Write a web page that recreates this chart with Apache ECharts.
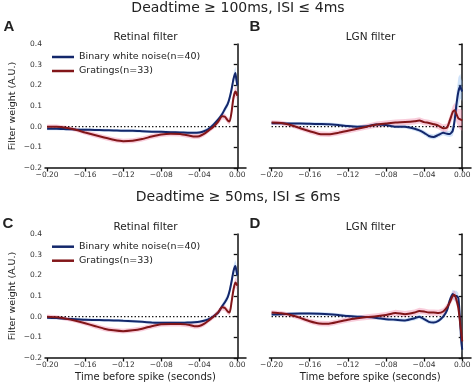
<!DOCTYPE html>
<html><head><meta charset="utf-8">
<script src="https://cdn.jsdelivr.net/npm/echarts@6/dist/echarts.min.js"></script>
<style>html,body{margin:0;padding:0;background:#fff}#c{width:474px;height:384px}</style>
</head><body><div id="c"></div>
<script>
const timeGrid = [-0.2,-0.19,-0.18,-0.17,-0.16,-0.15,-0.14,-0.13,-0.12,-0.11,-0.1,-0.09,-0.08,-0.07,-0.06,-0.05,-0.045,-0.04,-0.035,-0.03,-0.025,-0.02,-0.016,-0.013,-0.01,-0.008,-0.006,-0.004,-0.002,-0.001,0];
const xTicks = [-0.2,-0.16,-0.12,-0.08,-0.04,0];
const seriesNames = ['Binary white noise(n=40)','Gratings(n=33)'];
const rowTitles = ['Deadtime \u2265 100ms, ISI \u2264 4ms','Deadtime \u2265 50ms, ISI \u2264 6ms'];
const panelTitles = ['Retinal filter','LGN filter','Retinal filter','LGN filter'];
const panelLetters = ['A','B','C','D'];
const xLabel = 'Time before spike (seconds)';
const yLabel = 'Filter weight (A.U.)';

const blueA = [-0.01,-0.01,-0.012,-0.014,-0.015,-0.016,-0.017,-0.018,-0.02,-0.02,-0.022,-0.024,-0.025,-0.027,-0.028,-0.03,-0.03,-0.028,-0.022,-0.01,0.01,0.035,0.06,0.085,0.11,0.14,0.18,0.23,0.26,0.23,0.2];
const redA = [0.0,0.0,-0.005,-0.015,-0.028,-0.04,-0.052,-0.063,-0.07,-0.068,-0.06,-0.048,-0.038,-0.034,-0.036,-0.044,-0.048,-0.046,-0.035,-0.018,0.0,0.025,0.05,0.048,0.03,0.025,0.07,0.14,0.17,0.165,0.15];
const blueB = [0.016,0.016,0.015,0.015,0.014,0.013,0.012,0.008,0.003,0.0,0.002,0.01,0.008,0.0,0.0,-0.01,-0.018,-0.03,-0.045,-0.05,-0.04,-0.03,-0.034,-0.035,-0.02,0.03,0.11,0.17,0.195,0.18,0.17];
const redB = [0.02,0.018,0.008,-0.008,-0.022,-0.035,-0.037,-0.03,-0.02,-0.01,0.0,0.01,0.015,0.02,0.022,0.026,0.03,0.022,0.018,0.012,0.005,-0.008,-0.005,0.03,0.07,0.08,0.06,0.04,0.035,0.033,0.03];
const blueC = [-0.005,-0.007,-0.01,-0.012,-0.015,-0.016,-0.017,-0.018,-0.02,-0.022,-0.025,-0.028,-0.03,-0.03,-0.03,-0.028,-0.027,-0.025,-0.02,-0.012,0.002,0.02,0.05,0.07,0.095,0.125,0.17,0.22,0.245,0.225,0.2];
const redC = [0.0,-0.003,-0.01,-0.02,-0.032,-0.045,-0.058,-0.066,-0.07,-0.066,-0.058,-0.046,-0.037,-0.035,-0.036,-0.04,-0.046,-0.045,-0.035,-0.018,0.0,0.022,0.045,0.042,0.025,0.02,0.07,0.13,0.165,0.16,0.15];
const blueD = [0.01,0.012,0.014,0.015,0.015,0.014,0.012,0.008,0.003,0.0,-0.002,-0.006,-0.012,-0.015,-0.018,-0.008,0.0,-0.012,-0.025,-0.028,-0.02,0.0,0.03,0.08,0.11,0.1,0.1,0.09,-0.04,-0.12,-0.16];
const redD = [0.02,0.016,0.008,-0.006,-0.022,-0.033,-0.034,-0.025,-0.015,-0.008,-0.002,0.002,0.008,0.018,0.012,0.02,0.028,0.025,0.02,0.02,0.018,0.025,0.045,0.07,0.1,0.105,0.08,0.04,-0.04,-0.08,-0.12];

const errBlueA = [0.007,0.007,0.007,0.007,0.007,0.007,0.007,0.007,0.007,0.007,0.007,0.007,0.007,0.007,0.007,0.007,0.007,0.007,0.008,0.009,0.01,0.011,0.013,0.015,0.017,0.019,0.022,0.026,0.03,0.03,0.03];
const errRedA = [0.01,0.01,0.01,0.01,0.011,0.012,0.012,0.012,0.012,0.012,0.012,0.012,0.012,0.012,0.012,0.012,0.012,0.012,0.012,0.012,0.012,0.014,0.015,0.015,0.015,0.016,0.019,0.022,0.025,0.025,0.025];
const errBlueB = [0.008,0.008,0.008,0.008,0.008,0.008,0.008,0.008,0.008,0.008,0.008,0.008,0.008,0.008,0.009,0.01,0.01,0.011,0.012,0.012,0.012,0.012,0.013,0.015,0.025,0.04,0.055,0.07,0.06,0.05,0.05];
const errRedB = [0.011,0.011,0.011,0.011,0.012,0.013,0.013,0.013,0.013,0.013,0.014,0.015,0.015,0.015,0.015,0.015,0.015,0.015,0.015,0.016,0.017,0.018,0.02,0.025,0.03,0.035,0.04,0.045,0.05,0.05,0.05];
const errBlueC = [0.007,0.007,0.007,0.007,0.007,0.007,0.007,0.007,0.007,0.007,0.007,0.007,0.007,0.007,0.007,0.007,0.007,0.007,0.008,0.009,0.01,0.011,0.013,0.015,0.017,0.019,0.022,0.026,0.03,0.03,0.03];
const errRedC = [0.01,0.01,0.01,0.01,0.011,0.012,0.012,0.012,0.012,0.012,0.012,0.012,0.012,0.012,0.012,0.012,0.012,0.012,0.012,0.012,0.012,0.014,0.015,0.015,0.015,0.016,0.019,0.022,0.025,0.025,0.025];
const errBlueD = [0.008,0.008,0.008,0.008,0.008,0.008,0.008,0.008,0.008,0.008,0.008,0.008,0.008,0.008,0.009,0.01,0.01,0.01,0.01,0.01,0.01,0.012,0.014,0.016,0.02,0.025,0.025,0.025,0.03,0.03,0.03];
const errRedD = [0.011,0.011,0.011,0.011,0.012,0.013,0.013,0.013,0.013,0.013,0.014,0.015,0.015,0.015,0.015,0.015,0.015,0.015,0.015,0.015,0.015,0.016,0.017,0.018,0.02,0.022,0.025,0.025,0.03,0.03,0.03];

const panels = [
  {blue: blueA, red: redA, eb: errBlueA, er: errRedA},
  {blue: blueB, red: redB, eb: errBlueB, er: errRedB},
  {blue: blueC, red: redC, eb: errBlueC, er: errRedC},
  {blue: blueD, red: redD, eb: errBlueD, er: errRedD}
];

const BLUE = '#13276b', RED = '#821619';
const BAND_BLUE = 'rgba(140,185,240,0.42)', BAND_RED = 'rgba(240,130,165,0.4)';
const FONT = 'DejaVu Sans';
const fmt = (v, d) => (v < -1e-9 ? '\u2212' : '') + Math.abs(v).toFixed(d);

const gridPos = [
  {left: 45, top: 44, width: 201, height: 124},
  {left: 269.5, top: 44, width: 201.5, height: 124},
  {left: 45, top: 234, width: 201, height: 124},
  {left: 269.5, top: 234, width: 201.5, height: 124}
];

const axisLineStyle = {color: '#111', width: 1.5};
const xAxes = [], yAxes = [], series = [];
gridPos.forEach((g, i) => {
  const bottomRow = i >= 2, leftCol = i % 2 === 0;
  xAxes.push({
    gridIndex: i, type: 'value', min: -0.2022, max: 0.0092,
    axisLine: {onZero: false, lineStyle: axisLineStyle},
    axisTick: {customValues: xTicks, length: 3.5, lineStyle: {color: '#111', width: 1.3}},
    axisLabel: {customValues: xTicks, formatter: v => fmt(v, 2), fontSize: 7.5, color: '#333', margin: 3, fontFamily: FONT},
    splitLine: {show: false},
    name: bottomRow ? xLabel : '', nameLocation: 'middle', nameGap: 14,
    nameTextStyle: {fontSize: 10, color: '#222', fontFamily: FONT}
  });
  yAxes.push({
    gridIndex: i, type: 'value', min: -0.2, max: 0.4, interval: 0.1,
    axisLine: {show: true, lineStyle: axisLineStyle},
    axisTick: {show: true, length: 3.5, lineStyle: {color: '#111', width: 1.3}},
    axisLabel: {show: leftCol, formatter: v => fmt(v, 1), fontSize: 7.5, color: '#333', margin: 3, fontFamily: FONT},
    splitLine: {show: false},
    name: leftCol ? yLabel : '', nameLocation: 'middle', nameGap: 27,
    nameTextStyle: {fontSize: 9.5, color: '#222', fontFamily: FONT}
  });
  const p = panels[i];
  const band = (vals, err, color) => {
    const rows = timeGrid.map((x, k) => [x, vals[k] - err[k], vals[k] + err[k]]);
    series.push({
      type: 'custom', xAxisIndex: i, yAxisIndex: i, silent: true, z: 1, clip: true,
      encode: {x: 0, y: [1, 2]},
      data: rows,
      renderItem: (params, api) => {
        if (params.dataIndex !== 0) return null;
        const upper = rows.map(r => api.coord([r[0], r[2]]));
        const lower = rows.map(r => api.coord([r[0], r[1]])).reverse();
        return {type: 'polygon', shape: {points: upper.concat(lower)}, style: {fill: color}};
      }
    });
  };
  band(p.blue, p.eb, BAND_BLUE);
  band(p.red, p.er, BAND_RED);
  series.push({
    type: 'line', xAxisIndex: i, yAxisIndex: i, silent: true, symbol: 'none', z: 3,
    lineStyle: {color: '#000', width: 1.3, type: [1.3, 2.2]},
    data: [[-0.2, 0], [0, 0]]
  });
  series.push({
    name: seriesNames[0], type: 'line', xAxisIndex: i, yAxisIndex: i, symbol: 'none', smooth: 0.2, z: 4,
    color: BLUE, lineStyle: {color: BLUE, width: 2},
    data: timeGrid.map((x, k) => [x, p.blue[k]])
  });
  series.push({
    name: seriesNames[1], type: 'line', xAxisIndex: i, yAxisIndex: i, symbol: 'none', smooth: 0.2, z: 5,
    color: RED, lineStyle: {color: RED, width: 2},
    data: timeGrid.map((x, k) => [x, p.red[k]])
  });
});

const legendBase = {
  data: seriesNames, orient: 'vertical', left: 52, icon: 'rect', itemWidth: 22, itemHeight: 2.5, itemGap: 0, padding: 0,
  textStyle: {fontSize: 9.5, lineHeight: 14, color: '#222', fontFamily: FONT}, selectedMode: false
};

const txt = (text, x, y, font) => ({
  type: 'text', x: x, y: y, silent: true,
  style: {text: text, font: font, fill: '#222', align: 'center', verticalAlign: 'middle'}
});

const graphics = [
  txt(rowTitles[0], 238, 8, '14px "DejaVu Sans"'),
  txt(rowTitles[1], 238, 197.5, '14px "DejaVu Sans"'),
  txt(panelLetters[0], 9, 27, 'bold 15px "Liberation Sans"'),
  txt(panelLetters[1], 255, 27, 'bold 15px "Liberation Sans"'),
  txt(panelLetters[2], 8, 224, 'bold 15px "Liberation Sans"'),
  txt(panelLetters[3], 255, 224, 'bold 15px "Liberation Sans"'),
  txt(panelTitles[0], 145.5, 37, '10.5px "DejaVu Sans"'),
  txt(panelTitles[1], 370.5, 37, '10.5px "DejaVu Sans"'),
  txt(panelTitles[2], 145.5, 227, '10.5px "DejaVu Sans"'),
  txt(panelTitles[3], 370.5, 227, '10.5px "DejaVu Sans"')
];

const chart = echarts.init(document.getElementById('c'), null, {renderer: 'canvas'});
chart.setOption({
  animation: false,
  backgroundColor: '#fff',
  grid: gridPos,
  xAxis: xAxes,
  yAxis: yAxes,
  legend: [Object.assign({top: 50}, legendBase), Object.assign({top: 239.7}, legendBase)],
  graphic: graphics,
  series: series
});
</script></body></html>
